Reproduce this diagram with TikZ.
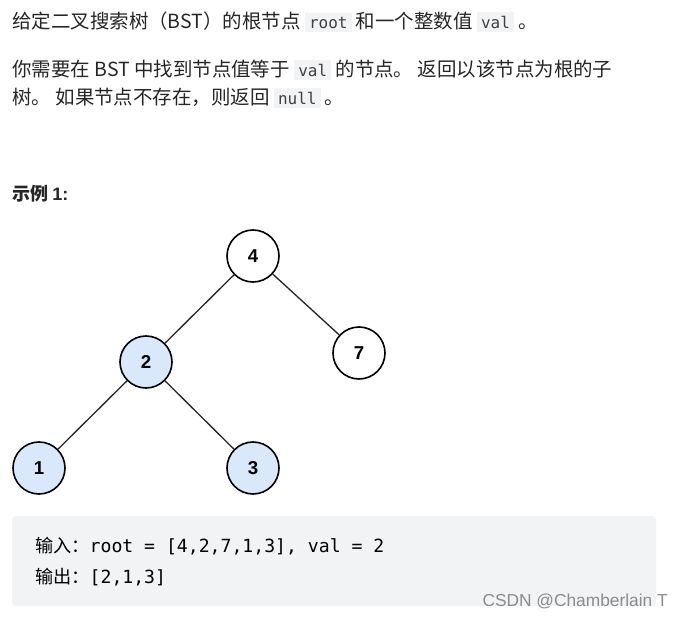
\documentclass[tikz,border=0pt]{standalone}
\usepackage{fontspec}
\setmainfont{Noto Sans CJK SC}
\setmonofont{DejaVu Sans Mono}
\newfontfamily\latinsans{Liberation Sans}
\newfontfamily\cjk{Noto Sans CJK SC}
\definecolor{codebg}{HTML}{F2F3F5}
\definecolor{nodeblue}{HTML}{DAE8FC}
\newcommand{\ic}[1]{{\setlength{\fboxsep}{3pt}\colorbox{codebg}{\ttfamily\fontsize{12pt}{13pt}\selectfont\color{black!75}#1}}}
\begin{document}
\begin{tikzpicture}[x=0.75pt,y=-0.75pt,
  txt/.style={anchor=west,inner sep=0pt,font=\fontsize{14.6pt}{17pt}\selectfont,text=black!85},
  tnode/.style={circle,draw=black,line width=1.2pt,minimum size=39pt,inner sep=0pt,font=\latinsans\bfseries\fontsize{14pt}{16pt}\selectfont},
  blue/.style={fill=nodeblue},
  edge/.style={line width=1pt,black!85}]
\useasboundingbox[fill=white] (0,0) rectangle (683,617);
\node[txt] (l1) at (12,22) {给定二叉搜索树（BST）的根节点 \ic{root} 和一个整数值 \ic{val} 。};
\node[txt] (l2) at (12,70) {你需要在 BST 中找到节点值等于 \ic{val} 的节点。 返回以该节点为根的子};
\node[txt] (l3) at (12,98) {树。 如果节点不存在，则返回 \ic{null} 。};
\node[txt,font=\fontsize{13.5pt}{15pt}\bfseries\selectfont] (ex) at (12,194) {示例 {\latinsans 1:}};
\node[tnode] (n4) at (253,256) {4};
\node[tnode,blue] (n2) at (146,362) {2};
\node[tnode] (n7) at (359,353) {7};
\node[tnode,blue] (n1) at (39,468) {1};
\node[tnode,blue] (n3) at (253,468) {3};
\draw[edge] (n4) -- (n2);
\draw[edge] (n4) -- (n7);
\draw[edge] (n2) -- (n1);
\draw[edge] (n2) -- (n3);
\fill[codebg,rounded corners=3pt] (12,516) rectangle (656,606);
\node[txt,font=\ttfamily\fontsize{13.6pt}{16pt}\selectfont,text=black] (in) at (35,546) {{\cjk 输入：}root = [4,2,7,1,3], val = 2};
\node[txt,font=\ttfamily\fontsize{13.6pt}{16pt}\selectfont,text=black] (out) at (35,577) {{\cjk 输出：}[2,1,3]};
\node[anchor=east,inner sep=0pt,font=\latinsans\fontsize{13pt}{15pt}\selectfont,text=black!45] (wm) at (668,601) {CSDN @Chamberlain T};
\end{tikzpicture}
\end{document}
